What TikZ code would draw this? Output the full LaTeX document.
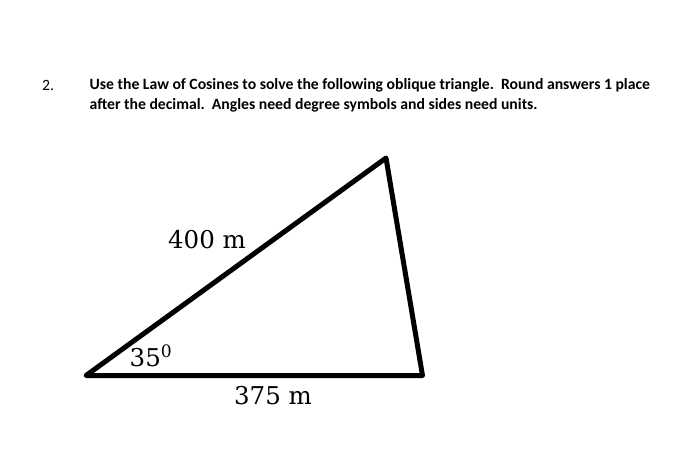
\documentclass[tikz,border=0pt]{standalone}
\usepackage{fontspec}
\setmainfont{DejaVu Serif}
\newfontfamily\headfont{Carlito}
\definecolor{InkColor}{RGB}{0,0,0}
\usetikzlibrary{positioning}
\tikzset{
  side/.style={line width=5pt, InkColor, line join=round},
  measure/.style={font=\fontsize{24.5}{28}\selectfont, inner sep=0pt},
  question/.style={font=\headfont\bfseries\fontsize{15.7}{20.5}\selectfont, anchor=base west, inner sep=0pt, align=left}
}

\begin{document}
\begin{tikzpicture}[x=1pt, y=-1pt]
    % page frame
    \useasboundingbox (0,0) rectangle (700,475);
    \fill[white] (0,0) rectangle (700,475);

    % question text
    \node[question, font=\headfont\fontsize{15.7}{20.5}\selectfont] (num) at (42,90.5) {2.};
    \node[question, anchor=north west] (task) at (89.5,78) {Use the Law of Cosines to solve the following oblique triangle.\ \ Round answers 1 place\\after the decimal.\ \ Angles need degree symbols and sides need units.};

    % triangle corners
    \coordinate (A) at (86,375.5);
    \coordinate (B) at (422.5,375.5);
    \coordinate (C) at (386,158);
    \draw[side] (A) -- (B) -- (C) -- cycle;

    % given sides and angle
    \node[measure] (ac) at (207,240) {400 m};
    \node[measure] (ab) at (273,396) {375 m};
    \node[measure] (angA) at (151,356) {35\textsuperscript{0}};
\end{tikzpicture}
\end{document}
